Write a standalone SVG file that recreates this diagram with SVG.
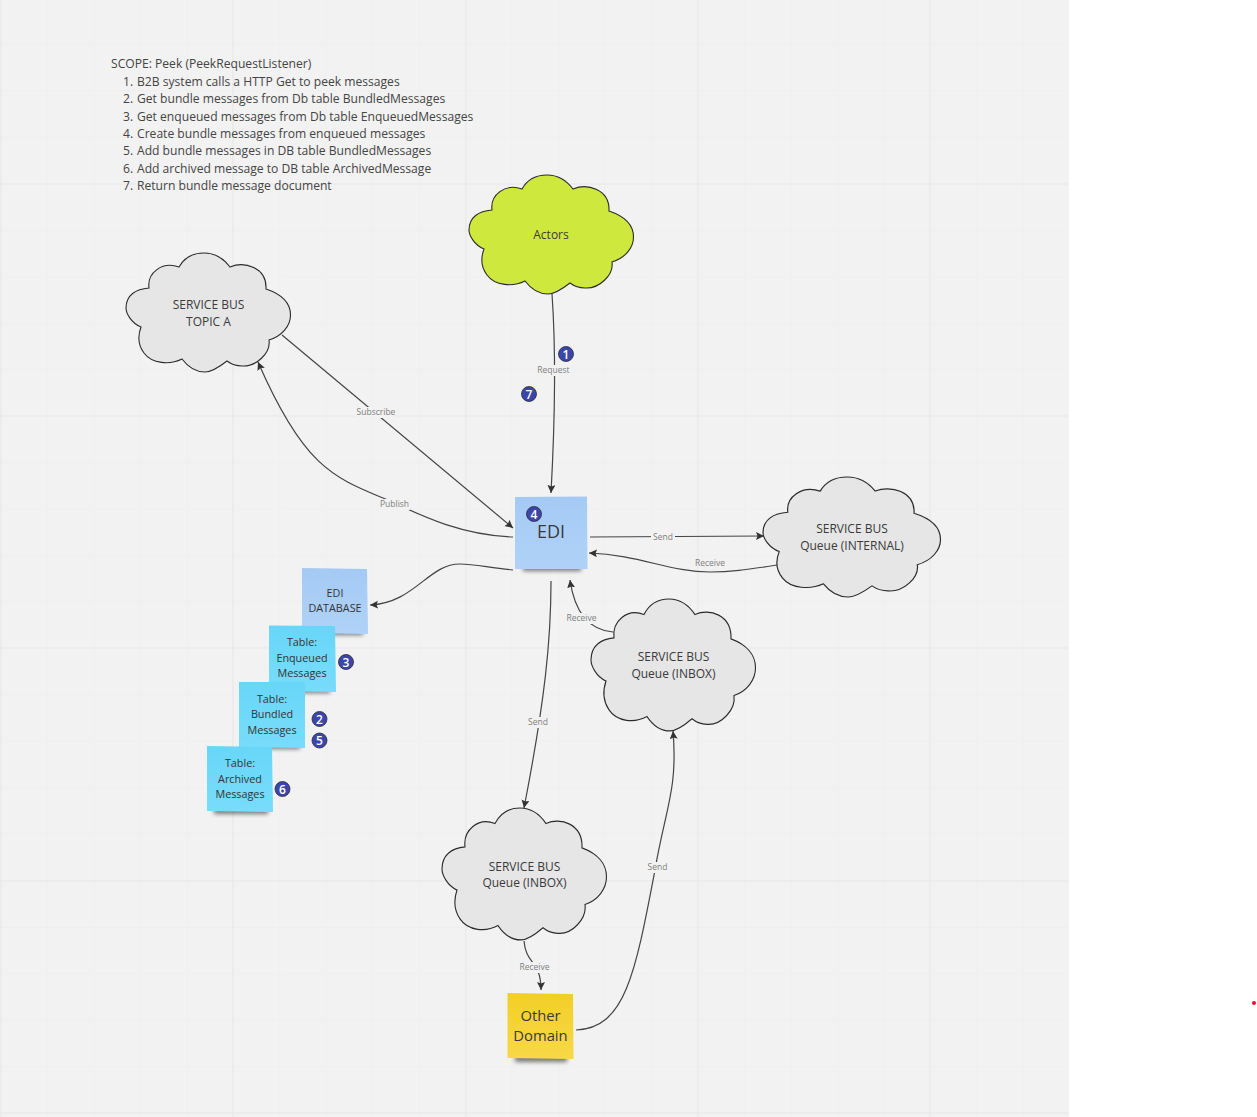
<svg xmlns="http://www.w3.org/2000/svg" width="1257" height="1117" viewBox="0 0 1257 1117">
<style>
text{font-family:"Open Sans","Noto Sans","Liberation Sans",sans-serif;fill:#3a3a3a;text-anchor:middle}
.minor{stroke:#efefef;stroke-width:1;fill:none}
.major{stroke:#e8e8e8;stroke-width:1.2;fill:none}
.scope text{font-size:12.12px;text-anchor:start;fill:#444}
.cl{fill:#e6e6e6;stroke:#2b2b2b;stroke-width:1.1;vector-effect:non-scaling-stroke}
.cloudtext{font-size:12px}
.st{font-size:10.8px;fill:#333}
.shadow{fill:#000;opacity:.5;filter:url(#blur)}
.conn{fill:none;stroke:#444;stroke-width:1.2}
.lb{font-size:8.5px;fill:#808080}
.lbg{fill:#f2f2f2}
.badge circle{fill:#3c46a8;stroke:#2a2a3a;stroke-width:.8}
.badge text{font-size:12px;fill:#fff;font-weight:600}
</style>
<defs>
<filter id="blur" x="-30%" y="-200%" width="160%" height="500%"><feGaussianBlur stdDeviation="2"/></filter>
<linearGradient id="blue" x1="0" y1="0" x2="0" y2="1"><stop offset="0" stop-color="#a4caf4"/><stop offset="1" stop-color="#b0d2f8"/></linearGradient>
<linearGradient id="cyan" x1="0" y1="0" x2="0" y2="1"><stop offset="0" stop-color="#68d6f8"/><stop offset="1" stop-color="#78dcfb"/></linearGradient>
<linearGradient id="yellow" x1="0" y1="0" x2="0" y2="1"><stop offset="0" stop-color="#f2cf26"/><stop offset="1" stop-color="#f8d848"/></linearGradient>
<path id="cloud" d="M23 35C21 20 36 8 53 14C58 5 67 0 78 0C89 0 98 6 104 14C118 8 141 14 140 36C155 41 164.500 50 164.500 62C164.500 73 156 83 143 87C145 100 130 114 116 113C110 113 105 111 101 108C92 115 84 119 79 119C70 119 62 114 56 106C44 112 26 111 18 100C12 92 12 82 15 74C5 70 0 60 0 55C0 42 10 36 23 35Z"/>
<marker id="arrow" markerUnits="userSpaceOnUse" markerWidth="10" markerHeight="10" refX="8" refY="4" orient="auto"><path d="M0 0L8 4L0 8L1.5 4Z" fill="#333"/></marker>
</defs>

<rect x="0" y="0" width="1257" height="1117" fill="#fff"/>
<rect x="0" y="0" width="1069" height="1117" fill="#f2f2f2"/>
<g id="grid">
<path class="minor" d="M47 0V1117M94 0V1117M140 0V1117M187 0V1117M280 0V1117M326 0V1117M373 0V1117M419 0V1117M512 0V1117M559 0V1117M605 0V1117M652 0V1117M745 0V1117M791 0V1117M838 0V1117M884 0V1117M977 0V1117M1023 0V1117M0 44.5H1069M0 91H1069M0 137.5H1069M0 230.5H1069M0 277H1069M0 323.5H1069M0 370H1069M0 462.5H1069M0 509H1069M0 555.5H1069M0 602H1069M0 694.5H1069M0 741H1069M0 787.5H1069M0 834H1069M0 927.5H1069M0 974H1069M0 1020.5H1069M0 1067H1069"/>
<path class="major" d="M1 0V1117M233 0V1117M466 0V1117M698 0V1117M930 0V1117M0 184H1069M0 416H1069M0 648H1069M0 881H1069M0 1113H1069"/>
</g>

<g id="scope" class="scope">
<text x="111" y="68">SCOPE: Peek (PeekRequestListener)</text>
<text x="123" y="86">1.</text><text x="137" y="86">B2B system calls a HTTP Get to peek messages</text>
<text x="123" y="103">2.</text><text x="137" y="103">Get bundle messages from Db table BundledMessages</text>
<text x="123" y="121">3.</text><text x="137" y="121">Get enqueued messages from Db table EnqueuedMessages</text>
<text x="123" y="138">4.</text><text x="137" y="138">Create bundle messages from enqueued messages</text>
<text x="123" y="155">5.</text><text x="137" y="155">Add bundle messages in DB table BundledMessages</text>
<text x="123" y="173">6.</text><text x="137" y="173">Add archived message to DB table ArchivedMessage</text>
<text x="123" y="190">7.</text><text x="137" y="190">Return bundle message document</text>
</g>

<g id="connectors">
<path class="conn" marker-end="url(#arrow)" d="M552 294C556 350 555 420 551 493"/>
<path class="conn" marker-end="url(#arrow)" d="M282 335L513 528"/>
<path class="conn" marker-end="url(#arrow)" d="M513 537C460 535 420 515 390 501C335 478 305 470 258 362"/>
<path class="conn" marker-end="url(#arrow)" d="M513 570C490 568 475 564 460 564C428 564 415 603 370 605"/>
<path class="conn" marker-end="url(#arrow)" d="M551 581C551 640 545 700 524 808"/>
<path class="conn" marker-end="url(#arrow)" d="M590 537L764 536"/>
<path class="conn" marker-end="url(#arrow)" d="M777 565C745 570 730 572 710 572C670 572 640 555 589 553"/>
<path class="conn" marker-end="url(#arrow)" d="M613 632C590 630 575 615 570 580"/>
<path class="conn" marker-end="url(#arrow)" d="M524 941C526 965 541 960 541 990"/>
<path class="conn" marker-end="url(#arrow)" d="M576 1030C625 1028 635 975 655 870C665 810 678 790 673 731"/>
<g id="connector-labels">
<rect class="lbg" x="537" y="365" width="33" height="11"/><text class="lb" x="553.5" y="373">Request</text>
<rect class="lbg" x="357" y="407" width="38" height="11"/><text class="lb" x="376" y="415">Subscribe</text>
<rect class="lbg" x="379" y="499" width="31" height="11"/><text class="lb" x="394.5" y="507">Publish</text>
<rect class="lbg" x="651" y="532" width="24" height="11"/><text class="lb" x="663" y="540">Send</text>
<text class="lb" x="710" y="566">Receive</text>
<rect class="lbg" x="566" y="613" width="31" height="11"/><text class="lb" x="581.5" y="621">Receive</text>
<rect class="lbg" x="527" y="717" width="22" height="11"/><text class="lb" x="538" y="725">Send</text>
<rect class="lbg" x="519" y="962" width="31" height="11"/><text class="lb" x="534.5" y="970">Receive</text>
<rect class="lbg" x="647" y="862" width="22" height="11"/><text class="lb" x="657.5" y="870">Send</text>
</g>
</g>

<g id="node-actors">
<use href="#cloud" class="cl" transform="translate(469 175)" style="fill:#cee83e"/>
<text class="cloudtext" x="551" y="239">Actors</text>
</g>
<g id="node-topic-a">
<use href="#cloud" class="cl" transform="translate(126 253)"/>
<text class="cloudtext" x="208.500" y="309">SERVICE BUS</text><text class="cloudtext" x="208.500" y="326">TOPIC A</text>
</g>
<g id="node-internal">
<use href="#cloud" class="cl" transform="translate(763 477) scale(1.079 1.008)"/>
<text class="cloudtext" x="852" y="533">SERVICE BUS</text><text class="cloudtext" x="852" y="550">Queue (INTERNAL)</text>
</g>
<g id="node-inbox-upper">
<use href="#cloud" class="cl" transform="translate(591 599) scale(1 1.109)"/>
<text class="cloudtext" x="673.500" y="661">SERVICE BUS</text><text class="cloudtext" x="673.500" y="678">Queue (INBOX)</text>
</g>
<g id="node-inbox-lower">
<use href="#cloud" class="cl" transform="translate(442 808) scale(1 1.109)"/>
<text class="cloudtext" x="524.500" y="871">SERVICE BUS</text><text class="cloudtext" x="524.500" y="887">Queue (INBOX)</text>
</g>

<g id="node-edi-database">
<rect class="shadow" x="309" y="629" width="54" height="6"/>
<path d="M302 568L367 569L368 634L302 633Z" fill="url(#blue)"/>
<text class="st" x="335" y="597">EDI</text><text class="st" x="335" y="612">DATABASE</text>
</g>
<g id="node-enqueued">
<rect class="shadow" x="276" y="687" width="54" height="6"/>
<path d="M269 625.500L335 626L336 692L269 691Z" fill="url(#cyan)"/>
<text class="st" x="302" y="646">Table:</text><text class="st" x="302" y="662">Enqueued</text><text class="st" x="302" y="677">Messages</text>
</g>
<g id="node-bundled">
<rect class="shadow" x="246" y="743" width="54" height="6"/>
<path d="M239 682L305 682L305 748L239 747Z" fill="url(#cyan)"/>
<text class="st" x="272" y="703">Table:</text><text class="st" x="272" y="718">Bundled</text><text class="st" x="272" y="734">Messages</text>
</g>
<g id="node-archived">
<rect class="shadow" x="214" y="808" width="54" height="6"/>
<path d="M207 746L272 747L273 812L207 811Z" fill="url(#cyan)"/>
<text class="st" x="240" y="767">Table:</text><text class="st" x="240" y="783">Archived</text><text class="st" x="240" y="798">Messages</text>
</g>
<g id="node-edi">
<rect class="shadow" x="523" y="565" width="58" height="6"/>
<path d="M515 497L587 496.500L587.500 569L515 569Z" fill="url(#blue)"/>
<text x="551" y="538" font-size="18">EDI</text>
</g>
<g id="node-other-domain">
<rect class="shadow" x="515" y="1055" width="52" height="7"/>
<path d="M507.500 993L573 994L573.500 1059L507.500 1058Z" fill="url(#yellow)"/>
<text x="540.500" y="1021" font-size="14.800">Other</text><text x="540.500" y="1041" font-size="14.800">Domain</text>
</g>

<g id="badges" class="badge">
<g><circle cx="566" cy="354" r="7.500"/><text x="566" y="358.500">1</text></g>
<g><circle cx="529" cy="394" r="7.500"/><text x="529" y="398.500">7</text></g>
<g><circle cx="534" cy="514" r="7.500"/><text x="534" y="518.500">4</text></g>
<g><circle cx="346" cy="662" r="7.500"/><text x="346" y="666.500">3</text></g>
<g><circle cx="319.500" cy="719" r="7.500"/><text x="319.500" y="723.500">2</text></g>
<g><circle cx="319.500" cy="740.500" r="7.500"/><text x="319.500" y="745">5</text></g>
<g><circle cx="282.500" cy="789" r="7.500"/><text x="282.500" y="793.500">6</text></g>
</g>
<circle id="marker-dot" cx="1254" cy="1003" r="2" fill="#e8102a"/>
</svg>
